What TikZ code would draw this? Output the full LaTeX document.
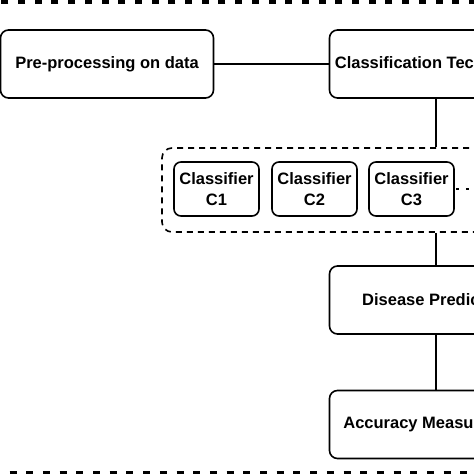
\documentclass[tikz,border=0pt]{standalone}
\usepackage{fontspec}
\setmainfont{Liberation Sans}
\usepackage{tikz}

\tikzset{
  stage/.style={draw, rounded corners=8pt, line width=1.6pt, minimum width=213pt, minimum height=68pt,
    font=\bfseries\fontsize{16.5}{21}\selectfont},
  clsbox/.style={draw, rounded corners=7pt, line width=1.6pt, minimum width=85pt, minimum height=54pt,
    align=center, inner sep=1pt, font=\bfseries\fontsize{16.5}{21}\selectfont},
  groupbox/.style={draw, rounded corners=10pt, line width=1.6pt, dash pattern=on 6pt off 5pt,
    minimum width=548pt, minimum height=84pt},
  link/.style={line width=1.6pt},
  frame/.style={line width=4pt, dash pattern=on 7pt off 9.7pt, dash phase=6.7pt}
}

\begin{document}
\begin{tikzpicture}[x=1pt, y=-1pt]
\useasboundingbox (0,0) rectangle (474,474);
\clip (0,0) rectangle (474,474);
% outer frame
\draw[frame] (-30,1.5) rectangle (700,473);
% top row
\node[stage] (pre) at (107,64) {Pre-processing on data};
\node[stage] (cls) at (436,64) {Classification Techniques};
% classifiers
\node[groupbox] (grp) at (436,190) {};
\node[clsbox] (c1) at (216.5,189) {Classifier\\C1};
\node[clsbox] (c2) at (314.5,189) {Classifier\\C2};
\node[clsbox] (c3) at (411.5,189) {Classifier\\C3};
\coordinate (more) at (500,189);
% right column
\node[stage] (dis) at (436,300) {Disease Prediction};
\node[stage] (acc) at (436,424.5) {Accuracy Measurement};
% links
\draw[link] (pre) -- (cls);
\draw[link] (cls) -- (grp);
\draw[link] (grp) -- (dis);
\draw[link] (dis) -- (acc);
\draw[line width=2.4pt, dash pattern=on 2.2pt off 7.8pt, dash phase=8.5pt] (c3.east) -- (more);
\end{tikzpicture}
\end{document}
